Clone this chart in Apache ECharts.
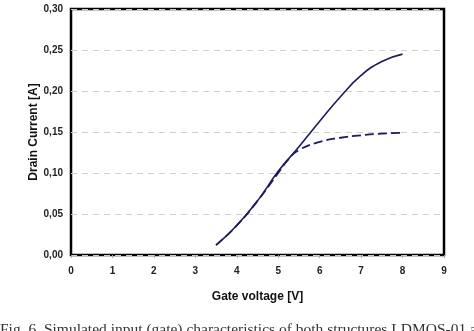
<!DOCTYPE html>
<html>
<head>
<meta charset="utf-8">
<script src="https://cdn.jsdelivr.net/npm/echarts@6/dist/echarts.min.js"></script>
<style>
  html, body { margin: 0; padding: 0; background: #fff; }
  #chart { width: 474px; height: 331px; }
</style>
</head>
<body>
<div id="chart"></div>
<script>
// Gate voltage sweep [V] and simulated drain current [A] for both structures
const gateVoltage02 = [3.5, 4.0, 4.5, 5.0, 5.5, 6.0, 6.5, 7.0, 7.5, 8.0];
const drainCurrent02 = [0.012, 0.036, 0.066, 0.102, 0.132, 0.163, 0.193, 0.219, 0.236, 0.245];

const gateVoltage01 = [3.5, 4.0, 4.5, 5.0, 5.25, 5.5, 6.0, 6.5, 7.0, 7.5, 8.0];
const drainCurrent01 = [0.012, 0.036, 0.066, 0.100, 0.117, 0.128, 0.138, 0.143, 0.146, 0.148, 0.149];

const seriesNames = ['LDMOS-01', 'LDMOS-02'];
const xTicks = { min: 0, max: 9, interval: 1 };
const yTicks = { min: 0, max: 0.30, interval: 0.05 };

const captionText = 'Fig. 6. Simulated input (gate) characteristics of both structures LDMOS-01 and LDMOS-02';

function pairs(xs, ys) { return xs.map((x, i) => [x, ys[i]]); }

function withEndLabel(data, name) {
  return data.map((p, i) => i === data.length - 1
    ? { value: p, label: { show: true, formatter: name, position: 'top', offset: [8, -1],
        fontSize: 8, color: '#222', fontFamily: 'Liberation Sans' } }
    : p);
}

const lineColor = '#1c1c5c';
const chart = echarts.init(document.getElementById('chart'), null, { renderer: 'canvas' });
chart.setOption({
  animation: false,
  backgroundColor: '#fff',
  grid: { left: 71, top: 9, right: 30, bottom: 76, show: true, borderColor: '#000', borderWidth: 2.5, backgroundColor: 'transparent' },
  xAxis: {
    type: 'value', min: xTicks.min, max: xTicks.max, interval: xTicks.interval,
    name: 'Gate voltage [V]', nameLocation: 'middle', nameGap: 36,
    nameTextStyle: { fontFamily: 'Liberation Sans', fontWeight: 'bold', fontSize: 12, color: '#111' },
    axisLine: { show: false },
    axisTick: { show: true, length: 3, lineStyle: { color: '#aaa' } },
    axisLabel: { fontFamily: 'Liberation Sans', fontWeight: 'bold', fontSize: 10, color: '#222', margin: 11 },
    splitLine: { show: false }
  },
  yAxis: {
    type: 'value', min: yTicks.min, max: yTicks.max, interval: yTicks.interval,
    name: 'Drain Current [A]', nameLocation: 'middle', nameGap: 31, nameRotate: 90,
    nameMoveOverlap: false,
    nameTextStyle: { fontFamily: 'Liberation Sans', fontWeight: 'bold', fontSize: 12, color: '#111' },
    axisLine: { show: false },
    axisTick: { show: false },
    axisLabel: { fontFamily: 'Liberation Sans', fontWeight: 'bold', fontSize: 10, color: '#222', margin: 8,
      formatter: v => v.toFixed(2).replace('.', ',') },
    splitLine: { show: true, lineStyle: { color: '#cfcfcf', type: [6, 5], width: 1 } }
  },
  series: [
    {
      name: seriesNames[0], type: 'line', smooth: true, symbol: 'none', showSymbol: false,
      data: withEndLabel(pairs(gateVoltage01, drainCurrent01), seriesNames[0]),
      lineStyle: { color: lineColor, width: 1.8, type: [9, 4] }
    },
    {
      name: seriesNames[1], type: 'line', smooth: true, symbol: 'none', showSymbol: false,
      data: withEndLabel(pairs(gateVoltage02, drainCurrent02), seriesNames[1]),
      lineStyle: { color: lineColor, width: 1.6 }
    }
  ],
  graphic: [{
    type: 'text', left: 0, top: 322,
    style: { text: captionText, font: '15.5px "Liberation Serif"', fill: '#333' }
  }]
});
</script>
</body>
</html>
